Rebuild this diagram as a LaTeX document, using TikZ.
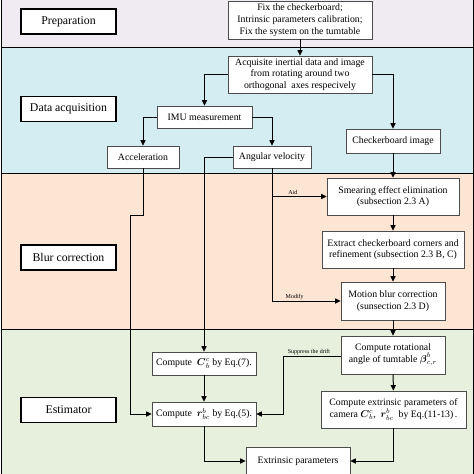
\documentclass[tikz,border=0pt]{standalone}
\usepackage{amsmath}
\usepackage{fontspec}
\setmainfont{Liberation Serif}
\usetikzlibrary{arrows.meta,calc}
\begin{document}
\begin{tikzpicture}[x=1pt,y=-1pt,
  box/.style={draw=black!70,fill=white,line width=0.6pt,align=center,inner sep=0pt,
    font=\fontsize{9.8}{11.7}\selectfont},
  stage/.style={draw=black,fill=white,line width=1.6pt,inner sep=0pt,
    minimum width=95pt,minimum height=25pt,font=\fontsize{11.8}{13}\selectfont},
  band/.style={draw=black,line width=0.8pt},
  conn/.style={line width=1pt,-{Triangle[length=5.5pt,width=5pt]}},
  seg/.style={line width=1pt},
  tag/.style={font=\fontsize{6}{6.5}\selectfont,inner sep=1pt,above}]
\useasboundingbox (0,0) rectangle (474,474);
% bands
\fill[fill={rgb,255:red,240;green,235;blue,242}] (1,0) rectangle (473,47);
\fill[fill={rgb,255:red,212;green,237;blue,243}] (1,47) rectangle (473,173);
\fill[fill={rgb,255:red,253;green,229;blue,212}] (1,173) rectangle (473,329);
\fill[fill={rgb,255:red,230;green,240;blue,220}] (1,329) rectangle (473,474);
\draw[band] (1,-1) -- (1,475) (473,-1) -- (473,475);
\draw[band] (1,47) -- (473,47) (1,173) -- (473,173) (1,329) -- (473,329);
% stage labels
\node[stage] (sprep) at (68.5,21.5) {Preparation};
\node[stage] (sdata) at (68.5,109) {Data acquisition};
\node[stage] (sblur) at (68.5,257.5) {Blur correction};
\node[stage] (sest) at (68.5,410) {Estimator};
% boxes
\node[box,minimum width=144pt,minimum height=38pt] (fix) at (300,20) {Fix the checkerboard;\\Intrinsic parameters calibration;\\Fix the system on the tumtable};
\node[box,minimum width=144pt,minimum height=37pt] (acq) at (300,74.5) {Acquisite inertial data and image\\from rotating around two\\orthogonal\ \ axes respecively};
\node[box,minimum width=95pt,minimum height=22pt] (imu) at (204.5,117) {IMU measurement};
\node[box,minimum width=72pt,minimum height=22pt] (acc) at (143,157) {Acceleration};
\node[box,minimum width=78pt,minimum height=22pt] (ang) at (272,157) {Angular velocity};
\node[box,minimum width=94pt,minimum height=24pt] (chk) at (393,141) {Checkerboard image};
\node[box,minimum width=132pt,minimum height=37pt] (smear) at (393,196.5) {Smearing effect elimination\\(subsection 2.3 A)};
\node[box,minimum width=142pt,minimum height=37pt] (extr) at (393,249.5) {Extract checkerboard corners and\\refinement (subsection 2.3 B, C)};
\node[box,minimum width=104pt,minimum height=38pt] (mot) at (393,301) {Motion blur correction\\(sunsection 2.3 D)};
\node[box,minimum width=104pt,minimum height=38pt] (rot) at (393,355) {Compute rotational\\angle of tumtable $\boldsymbol{\beta}^{b}_{c,r}$};
\node[box,minimum width=145pt,minimum height=37pt] (cam) at (393.5,409.5) {Compute extrinsic parameters of\\camera $\boldsymbol{C}^{c}_{b}$,\ \ $\boldsymbol{r}^{b}_{bc}$\ \ by Eq.(11-13)\,.};
\node[box,minimum width=104pt,minimum height=23pt] (cc) at (204,363.5) {Compute\ \ $\boldsymbol{C}^{c}_{b}$ by Eq.(7).};
\node[box,minimum width=104pt,minimum height=24pt] (cr) at (204,414) {Compute\ \ $\boldsymbol{r}^{b}_{bc}$ by Eq.(5).};
\node[box,minimum width=104pt,minimum height=27pt] (ext) at (298,461) {Extrinsic parameters};
% helper coordinates
\coordinate (angx) at (272,196.5);
\coordinate (angy) at (272,301);
\coordinate (acc1) at (143,215);
\coordinate (acc2) at (130,215);
\coordinate (acc3) at (130,414);
\coordinate (sup) at (283,356);
% connectors
\draw[conn] (fix) -- (acq);
\draw[conn] (acq.west) -| (imu.north);
\draw[conn] (acq.east) -| (chk.north);
\draw[conn] (imu.west) -| (acc.north);
\draw[conn] (imu.east) -| (ang.north);
\draw[conn] (chk) -- (smear);
\draw[conn] (smear) -- (extr);
\draw[conn] (extr) -- (mot);
\draw[conn] (mot) -- (rot);
\draw[conn] (rot) -- (cam);
\draw[seg] (ang.south) -- (angy);
\draw[conn] (angx) -- node[tag,pos=0.38]{Aid} (smear.west);
\draw[conn] (angy) -- node[tag,pos=0.33]{Modify} (mot.west);
\draw[conn] (ang.west) -| (cc.north);
\draw[conn] (acc.south) -- (acc1) -- (acc2) -- (acc3) -- (cr.west);
\draw[conn] (cc) -- (cr);
\draw[conn] (rot.west |- sup) -- node[tag,pos=0.55]{Suppress the drift} (sup) |- (cr.east);
\draw[conn] (cr.south) |- (ext.west);
\draw[conn] (cam.south) |- (ext.east);
\end{tikzpicture}
\end{document}
